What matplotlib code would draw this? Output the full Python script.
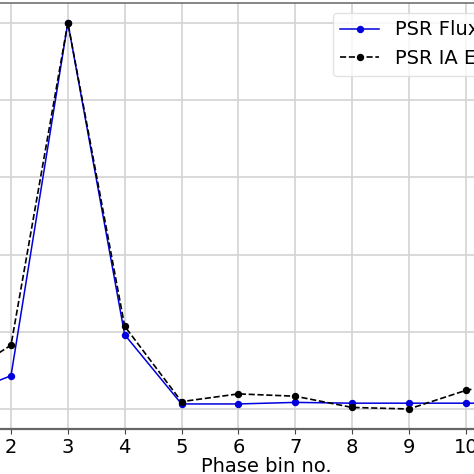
import matplotlib
matplotlib.use("Agg")
import matplotlib.pyplot as plt

phase_bins = [1, 2, 3, 4, 5, 6, 7, 8, 9, 10, 11]
psr_flux = [0.029, 0.087, 1.0, 0.193, 0.014, 0.014, 0.018, 0.016, 0.016, 0.016, 0.016]
psr_ia_energy = [0.072, 0.166, 1.0, 0.215, 0.020, 0.040, 0.034, 0.005, 0.001, 0.049, 0.077]
xticks = [1, 2, 3, 4, 5, 6, 7, 8, 9, 10, 11, 12]
yticks = [0.0, 0.2, 0.4, 0.6, 0.8, 1.0]
labels = ["PSR Flux Density", "PSR IA Energy"]

W = 474
fig = plt.figure(figsize=(4.74, 4.74), dpi=100)
left_px, right_px = -77.1, 610.7
bottom_frac = 1 - 428.7 / W
top_frac = 1 - 3.3 / W
ax = fig.add_axes([left_px / W, bottom_frac, (right_px - left_px) / W, top_frac - bottom_frac])

ax.plot(phase_bins, psr_flux, color="#0000dd", lw=1.1, marker="o", markersize=4.3,
        label=labels[0], zorder=3)
ax.plot(phase_bins, psr_ia_energy, color="black", lw=1.2, ls="--", marker="o",
        markersize=4.3, label=labels[1], zorder=4)

ax.set_xlim(0.45, 12.55)
ax.set_ylim(-0.05, 1.05)
ax.set_xticks(xticks)
ax.set_yticks(yticks)
ax.grid(True, color="#d3d3d3", lw=1.2)
ax.set_axisbelow(True)
ax.tick_params(axis="x", labelsize=14, colors="#444444", labelcolor="black")
ax.tick_params(axis="y", labelleft=False, length=0)
ax.set_xlabel("Phase bin no.", fontsize=14, labelpad=0)

for s in ["left", "right"]:
    ax.spines[s].set_visible(False)
ax.spines["bottom"].set_color("#666666")
ax.spines["bottom"].set_linewidth(1.6)
ax.spines["top"].set_color("#666666")
ax.spines["top"].set_linewidth(1.1)

leg = ax.legend(loc="upper left", bbox_to_anchor=(332.7 / W, 1 - 12.7 / W),
                bbox_transform=fig.transFigure, borderaxespad=0, fontsize=14,
                numpoints=1, handlelength=2.0, framealpha=0.8)
leg.get_frame().set_edgecolor("#dddddd")

fig.savefig("out.png", dpi=100)
